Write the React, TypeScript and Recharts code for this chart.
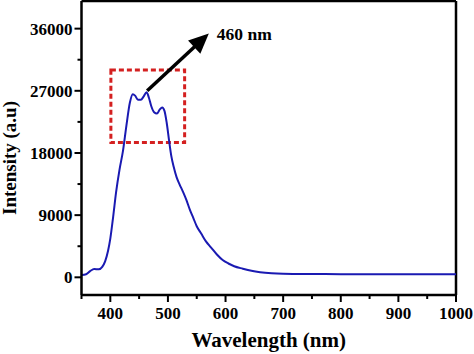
import React from 'react';
import { ComposedChart, Line, XAxis, YAxis, ReferenceArea, ReferenceLine } from 'recharts';

const wavelength = [350, 358, 365, 372, 380, 386, 391, 396, 400, 405, 410, 416, 422, 428, 434, 439, 443, 448, 453, 458, 463, 467, 471, 476, 481, 486, 490, 494, 498, 502, 506, 510, 515, 520, 526, 532, 538, 544, 550, 558, 566, 575, 585, 595, 605, 615, 630, 645, 660, 680, 700, 750, 800, 850, 900, 950, 1000];
const intensity = [330, 450, 900, 1200, 1150, 1500, 2300, 3800, 5600, 8800, 12300, 15600, 18300, 22000, 25300, 26500, 26300, 25700, 25700, 26200, 26800, 26000, 24800, 23900, 23700, 24300, 24600, 24100, 22300, 19800, 17500, 16000, 14500, 13500, 12400, 11200, 9800, 8600, 7400, 6300, 5200, 4300, 3300, 2500, 2000, 1600, 1250, 950, 750, 600, 530, 480, 460, 450, 440, 430, 430];

const xTicks = [350, 400, 450, 500, 550, 600, 650, 700, 750, 800, 850, 900, 950, 1000];
const xMajor = [400, 500, 600, 700, 800, 900, 1000];
const yTicks = [0, 4500, 9000, 13500, 18000, 22500, 27000, 31500, 36000];
const yMajor = [0, 9000, 18000, 27000, 36000];

const boxX = [401, 529];
const boxY = [19500, 30000];
const arrowFrom = { x: 464, y: 27000 };
const arrowTo = { x: 571, y: 35300 };
const arrowLabel = '460 nm';
const xTitle = 'Wavelength (nm)';
const yTitle = 'Intensity (a.u)';

const data = wavelength.map((w, i) => ({ w, v: intensity[i] }));

const FONT = '"Liberation Serif", "Times New Roman", serif';

const XTick = (props: any) => {
  const { x, y, payload } = props;
  const major = xMajor.includes(payload.value);
  return (
    <g>
      <line x1={x} x2={x} y1={y} y2={y + (major ? 7 : 4)} stroke="#000" strokeWidth={2} />
      {major && (
        <text x={x} y={y + 24} textAnchor="middle" fontFamily={FONT} fontWeight="bold" fontSize={17} fill="#000">
          {payload.value}
        </text>
      )}
    </g>
  );
};

const YTick = (props: any) => {
  const { x, y, payload } = props;
  const major = yMajor.includes(payload.value);
  return (
    <g>
      <line x1={x} x2={x - (major ? 7 : 4)} y1={y} y2={y} stroke="#000" strokeWidth={2} />
      {major && (
        <text x={x - 9} y={y + 6} textAnchor="end" fontFamily={FONT} fontWeight="bold" fontSize={17} fill="#000">
          {payload.value}
        </text>
      )}
    </g>
  );
};

const YTitle = () => (
  <text
    x={16}
    y={158}
    transform="rotate(-90 16 158)"
    textAnchor="middle"
    fontFamily={FONT}
    fontWeight="bold"
    fontSize={19}
    fill="#000"
  >
    {yTitle}
  </text>
);

const XTitle = (props: any) => {
  const vb = props.viewBox || {};
  const cx = (vb.x ?? 81.5) + (vb.width ?? 374.5) / 2;
  return (
    <text x={cx} y={347} textAnchor="middle" fontFamily={FONT} fontWeight="bold" fontSize={21} fill="#000">
      {xTitle}
    </text>
  );
};

const ArrowShape = (props: any) => {
  const { x1, y1, x2, y2 } = props;
  if ([x1, y1, x2, y2].some((v) => v === undefined || isNaN(v))) return null;
  const dx = x2 - x1;
  const dy = y2 - y1;
  const len = Math.sqrt(dx * dx + dy * dy);
  const ux = dx / len;
  const uy = dy / len;
  const headLen = 20;
  const headW = 9;
  const bx = x2 - ux * headLen;
  const by = y2 - uy * headLen;
  const px = -uy;
  const py = ux;
  return (
    <g>
      <line x1={x1} y1={y1} x2={bx + ux * 2} y2={by + uy * 2} stroke="#000" strokeWidth={3.5} />
      <polygon
        points={`${x2},${y2} ${bx + px * headW},${by + py * headW} ${bx - px * headW},${by - py * headW}`}
        fill="#000"
      />
      <text x={x2 + 8} y={y2 + 7} fontFamily={FONT} fontWeight="bold" fontSize={17.5} fill="#000">
        {arrowLabel}
      </text>
    </g>
  );
};

export default function App() {
  return (
    <div style={{ position: 'absolute', left: 0, top: 0, background: '#fff' }}>
      <ComposedChart width={474} height={354} data={data} margin={{ top: 1, right: 18, left: 0, bottom: 0 }}>
        <XAxis
          dataKey="w"
          type="number"
          domain={[350, 1000]}
          ticks={xTicks}
          interval={0}
          allowDataOverflow
          height={59}
          tickSize={0}
          tickMargin={0}
          tickLine={false}
          tick={<XTick />}
          axisLine={{ stroke: '#000', strokeWidth: 2.5 }}
          label={<XTitle />}
        />
        <YAxis
          type="number"
          domain={[-2560, 40000]}
          ticks={yTicks}
          interval={0}
          allowDataOverflow
          width={81.5}
          tickSize={0}
          tickMargin={0}
          tickLine={false}
          tick={<YTick />}
          axisLine={{ stroke: '#000', strokeWidth: 2.5 }}
          label={<YTitle />}
        />
        <ReferenceLine x={1000} stroke="#000" strokeWidth={2.5} ifOverflow="visible" />
        <ReferenceLine y={40000} stroke="#000" strokeWidth={2.5} ifOverflow="visible" />
        <Line
          dataKey="v"
          type="monotone"
          stroke="#1a1ab2"
          strokeWidth={2}
          dot={false}
          isAnimationActive={false}
        />
        <ReferenceArea
          x1={boxX[0]}
          x2={boxX[1]}
          y1={boxY[0]}
          y2={boxY[1]}
          fill="none"
          fillOpacity={0}
          stroke="#d42020"
          strokeWidth={3}
          strokeDasharray="5 3"
          ifOverflow="visible"
        />
        <ReferenceLine
          segment={[arrowFrom, arrowTo]}
          ifOverflow="visible"
          shape={<ArrowShape />}
        />
      </ComposedChart>
    </div>
  );
}
